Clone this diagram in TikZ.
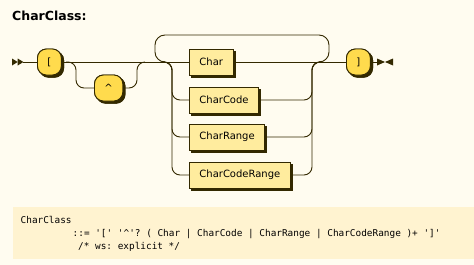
\documentclass[tikz,border=0pt]{standalone}
\usepackage{fontspec}
\setmainfont{DejaVu Sans}
\setmonofont{DejaVu Sans Mono}
\definecolor{lc}{HTML}{332900}
\definecolor{tc}{HTML}{FFDB4D}
\definecolor{nc}{HTML}{FFEC9E}
\definecolor{bgc}{HTML}{FFFCF0}
\definecolor{codebg}{HTML}{FFF3D0}
\tikzset{
  conn/.style={draw=lc, line width=0.9pt},
  shadowed/.style={preaction={fill=lc, draw=lc, transform canvas={xshift=2.2pt,yshift=-2.2pt}}},
  boxbase/.style={draw=lc, line width=0.9pt, minimum height=26pt, inner xsep=10pt, inner ysep=0pt,
    font=\fontsize{10}{12}\selectfont, anchor=west, text=black, shadowed},
  term/.style={boxbase, fill=tc, rounded corners=9pt},
  nonterm/.style={boxbase, fill=nc},
  codetext/.style={anchor=base west, inner sep=0pt, font=\ttfamily\fontsize{9.4}{11}\selectfont, text=black},
}
\begin{document}
\begin{tikzpicture}[x=1pt,y=-1pt]
\useasboundingbox (0,0) rectangle (474,265);
\fill[bgc] (0,0) rectangle (474,265);
\fill[codebg] (12.5,207) rectangle (474,259);

\node[anchor=base west, inner sep=0pt, font=\bfseries\fontsize{12.5}{14}\selectfont] (title) at (12,20) {CharClass:};

% nodes
\node[term] (lb) at (37,62) {[};
\node[term] (caret) at (94,88) {\textasciicircum};
\node[nonterm] (char) at (189,62) {Char};
\node[nonterm] (charcode) at (189,100) {CharCode};
\node[nonterm] (charrange) at (189,137) {CharRange};
\node[nonterm] (charcoderange) at (189,175) {CharCodeRange};
\node[term] (rb) at (346,62) {]};

% coordinates
\coordinate (st) at (23,62);
\coordinate (en) at (377,62);
\coordinate (oa) at (66,62);
\coordinate (ob) at (145,62);
\coordinate (cs) at (163,62);
\coordinate (ce) at (321,62);
\coordinate (ll) at (164,62);
\coordinate (lr) at (319,62);

% start / end markers
\fill[lc] (12,58.5) -- (17.7,62) -- (12,65.5) -- cycle;
\fill[lc] (17.7,58.5) -- (23.4,62) -- (17.7,65.5) -- cycle;
\fill[lc] (377,58.5) -- (385,62) -- (377,65.5) -- cycle;
\fill[lc] (393,58.5) -- (385,62) -- (393,65.5) -- cycle;

% main line
\draw[conn] (st) -- (lb.west);
\draw[conn] (lb.east) -- (char.west);
\draw[conn] (char.east) -- (rb.west);
\draw[conn] (rb.east) -- (en);

% optional caret
\draw[conn, rounded corners=8pt] (oa) -- (76,62) -- (76,88) -- (caret.west);
\draw[conn, rounded corners=8pt] (caret.east) -- (137,88) -- (137,62) -- (ob);

% choice branches
\draw[conn, rounded corners=8pt] (cs) -- (172,62) -- (172,100) -- (charcode.west);
\draw[conn, rounded corners=8pt] (cs) -- (172,62) -- (172,137) -- (charrange.west);
\draw[conn, rounded corners=8pt] (cs) -- (172,62) -- (172,175) -- (charcoderange.west);
\draw[conn, rounded corners=8pt] (charcode.east) -- (312,100) -- (312,62) -- (ce);
\draw[conn, rounded corners=8pt] (charrange.east) -- (312,137) -- (312,62) -- (ce);
\draw[conn, rounded corners=8pt] (charcoderange.east) -- (312,175) -- (312,62) -- (ce);

% repetition loop
\draw[conn, rounded corners=10pt] (lr) -- (329,62) -- (329,35) -- (155,35) -- (155,62) -- (ll);

% redraw nodes on top
\node[term] at (37,62) {[};
\node[term] at (94,88) {\textasciicircum};
\node[nonterm] at (189,62) {Char};
\node[term] at (346,62) {]};

% code
\node[codetext] (c1) at (20.5,223) {CharClass};
\node[codetext] (c2) at (72.5,236) {::= '[' '\textasciicircum'? ( Char | CharCode | CharRange | CharCodeRange )+ ']'};
\node[codetext] (c3) at (78,249) {/* ws: explicit */};
\end{tikzpicture}
\end{document}
